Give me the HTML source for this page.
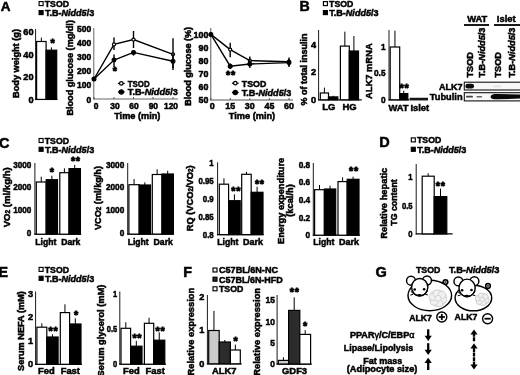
<!DOCTYPE html>
<html lang="en">
<head>
<meta charset="utf-8">
<title>Figure</title>
<style>
html,body{margin:0;padding:0;background:#fff;}
body{width:520px;height:375px;overflow:hidden;}
svg{display:block;}
svg text{font-family:"Liberation Sans",Arial,Helvetica,sans-serif;font-weight:bold;fill:#000;stroke:#000;stroke-width:0.5px;}
</style>
</head>
<body>
<svg width="520" height="375" viewBox="0 0 520 375">
<rect x="0" y="0" width="520" height="375" fill="#fff"/>
<text x="0.8" y="11.2" font-size="13.5" text-anchor="start">A</text>
<rect x="39.1" y="1.6" width="4" height="4" fill="#fff" stroke="#000" stroke-width="1.15"/>
<text x="44.8" y="6.91" font-size="9.2" text-anchor="start" textLength="24.2" lengthAdjust="spacingAndGlyphs">TSOD</text>
<rect x="39.1" y="10.6" width="4" height="4" fill="#000" stroke="#000" stroke-width="1.15"/>
<text x="45" y="15.91" font-size="9.2" text-anchor="start" textLength="49.2" lengthAdjust="spacingAndGlyphs">T.B-<tspan font-style="italic">Nidd5</tspan>/3</text>
<line x1="35.6" y1="29" x2="35.6" y2="100.05" stroke="#1a1a1a" stroke-width="1"/>
<line x1="35.1" y1="99.4" x2="57.4" y2="99.4" stroke="#000" stroke-width="1.3"/>
<text x="33.6" y="102.61" font-size="9.2" text-anchor="end">0</text>
<text x="33.6" y="80.31" font-size="9.2" text-anchor="end">20</text>
<text x="33.6" y="57.81" font-size="9.2" text-anchor="end">40</text>
<text x="33.6" y="35.31" font-size="9.2" text-anchor="end">60</text>
<line x1="41.35" y1="37.6" x2="41.35" y2="41.5" stroke="#000" stroke-width="1"/>
<rect x="36.6" y="41.5" width="9.5" height="57.9" fill="#fff" stroke="#000" stroke-width="1.2"/>
<line x1="51.4" y1="47.4" x2="51.4" y2="50.2" stroke="#000" stroke-width="1"/>
<rect x="46.1" y="50.2" width="10.6" height="49.2" fill="#000" stroke="#000" stroke-width="1.2"/>
<text x="52.5" y="46.9" font-size="10.8" text-anchor="middle" style="stroke-width:0.8px;stroke-linejoin:miter">*</text>
<text x="19" y="63.5" font-size="9.2" text-anchor="middle" transform="rotate(-90 19 63.5)">Body weight (g)</text>
<line x1="93.8" y1="28" x2="93.8" y2="99.55" stroke="#666" stroke-width="1"/>
<line x1="93.3" y1="99" x2="178" y2="99" stroke="#666" stroke-width="1.1"/>
<text x="91.2" y="103.26" font-size="8.5" text-anchor="end">0</text>
<text x="91.2" y="88.46" font-size="8.5" text-anchor="end">100</text>
<text x="91.2" y="74.06" font-size="8.5" text-anchor="end">200</text>
<text x="91.2" y="60.06" font-size="8.5" text-anchor="end">300</text>
<text x="91.2" y="46.06" font-size="8.5" text-anchor="end">400</text>
<text x="91.2" y="32.06" font-size="8.5" text-anchor="end">500</text>
<line x1="94" y1="99" x2="94" y2="97" stroke="#555" stroke-width="1"/>
<text x="96" y="109.32" font-size="8.4" text-anchor="middle">0</text>
<line x1="114" y1="99" x2="114" y2="97" stroke="#555" stroke-width="1"/>
<text x="115" y="109.32" font-size="8.4" text-anchor="middle">30</text>
<line x1="133.5" y1="99" x2="133.5" y2="97" stroke="#555" stroke-width="1"/>
<text x="134" y="109.32" font-size="8.4" text-anchor="middle">60</text>
<line x1="153" y1="99" x2="153" y2="97" stroke="#555" stroke-width="1"/>
<text x="153.3" y="109.32" font-size="8.4" text-anchor="middle">90</text>
<line x1="173" y1="99" x2="173" y2="97" stroke="#555" stroke-width="1"/>
<text x="171" y="109.32" font-size="8.4" text-anchor="middle">120</text>
<text x="137.3" y="118.91" font-size="9.2" text-anchor="middle">Time (min)</text>
<text x="72.6" y="67.8" font-size="9.1" text-anchor="middle" transform="rotate(-90 72.6 67.8)">Blood glucose (mg/dl)</text>
<polyline points="94,79 114,44.4 133.5,39.6 173,54.3" fill="none" stroke="#000" stroke-width="1.4"/>
<line x1="114" y1="37.6" x2="114" y2="50" stroke="#000" stroke-width="1.4"/>
<line x1="133.5" y1="31" x2="133.5" y2="48" stroke="#000" stroke-width="1.4"/>
<line x1="173" y1="38.3" x2="173" y2="68" stroke="#000" stroke-width="1.4"/>
<circle cx="94" cy="79" r="1.55" fill="#fff" stroke="#000" stroke-width="1.2"/>
<circle cx="114" cy="44.4" r="1.55" fill="#fff" stroke="#000" stroke-width="1.2"/>
<circle cx="133.5" cy="39.6" r="1.55" fill="#fff" stroke="#000" stroke-width="1.2"/>
<circle cx="173" cy="54.3" r="1.55" fill="#fff" stroke="#000" stroke-width="1.2"/>
<polyline points="94,79 114,60 133.5,52.4 173,61.3" fill="none" stroke="#000" stroke-width="1.4"/>
<line x1="114" y1="54.4" x2="114" y2="67" stroke="#000" stroke-width="1.4"/>
<line x1="133.5" y1="50" x2="133.5" y2="55.6" stroke="#000" stroke-width="1.4"/>
<line x1="173" y1="53" x2="173" y2="70" stroke="#000" stroke-width="1.4"/>
<circle cx="94" cy="79" r="1.9" fill="#000" stroke="#000" stroke-width="1.2"/>
<circle cx="114" cy="60" r="1.9" fill="#000" stroke="#000" stroke-width="1.2"/>
<circle cx="133.5" cy="52.4" r="1.9" fill="#000" stroke="#000" stroke-width="1.2"/>
<circle cx="173" cy="61.3" r="1.9" fill="#000" stroke="#000" stroke-width="1.2"/>
<text x="114.8" y="75.2" font-size="10.8" text-anchor="middle" style="stroke-width:0.8px;stroke-linejoin:miter">*</text>
<line x1="117.9" y1="83.4" x2="124.7" y2="83.4" stroke="#000" stroke-width="1.3"/>
<circle cx="121.3" cy="83.4" r="1.75" fill="#fff" stroke="#000" stroke-width="1.2"/>
<text x="127.8" y="86.86" font-size="9.6" text-anchor="start" textLength="21.8" lengthAdjust="spacingAndGlyphs">TSOD</text>
<line x1="117.9" y1="92" x2="124.7" y2="92" stroke="#000" stroke-width="1.3"/>
<circle cx="121.3" cy="92" r="2.1" fill="#000" stroke="#000" stroke-width="1.2"/>
<text x="127.8" y="95.46" font-size="9.6" text-anchor="start" textLength="50" lengthAdjust="spacingAndGlyphs">T.B-<tspan font-style="italic">Nidd5</tspan>/3</text>
<line x1="210.8" y1="28" x2="210.8" y2="100.55" stroke="#555" stroke-width="1"/>
<line x1="210.3" y1="100" x2="293" y2="100" stroke="#555" stroke-width="1.1"/>
<text x="208.4" y="102.9" font-size="8.9" text-anchor="end">50</text>
<text x="208.4" y="89.8" font-size="8.9" text-anchor="end">60</text>
<text x="208.4" y="76.8" font-size="8.9" text-anchor="end">70</text>
<text x="208.4" y="63.8" font-size="8.9" text-anchor="end">80</text>
<text x="208.4" y="50.6" font-size="8.9" text-anchor="end">90</text>
<text x="208.4" y="37.6" font-size="8.9" text-anchor="end">100</text>
<line x1="210.9" y1="100" x2="210.9" y2="98" stroke="#555" stroke-width="1"/>
<text x="212.2" y="109.3" font-size="8.9" text-anchor="middle">0</text>
<line x1="230.2" y1="100" x2="230.2" y2="98" stroke="#555" stroke-width="1"/>
<text x="230.2" y="109.3" font-size="8.9" text-anchor="middle">15</text>
<line x1="249.8" y1="100" x2="249.8" y2="98" stroke="#555" stroke-width="1"/>
<text x="249.8" y="109.3" font-size="8.9" text-anchor="middle">30</text>
<line x1="269.4" y1="100" x2="269.4" y2="98" stroke="#555" stroke-width="1"/>
<text x="269.5" y="109.3" font-size="8.9" text-anchor="middle">45</text>
<line x1="289" y1="100" x2="289" y2="98" stroke="#555" stroke-width="1"/>
<text x="289" y="109.3" font-size="8.9" text-anchor="middle">60</text>
<text x="252" y="118.91" font-size="9.2" text-anchor="middle">Time (min)</text>
<text x="191.3" y="66.4" font-size="9.05" text-anchor="middle" transform="rotate(-90 191.3 66.4)">Blood glucose (%)</text>
<polyline points="210.9,34.4 230.2,49.6 249.8,60.6 289,61.7" fill="none" stroke="#000" stroke-width="1.4"/>
<line x1="230.2" y1="42.7" x2="230.2" y2="57.3" stroke="#000" stroke-width="1.4"/>
<line x1="249.8" y1="56.5" x2="249.8" y2="66" stroke="#000" stroke-width="1.4"/>
<line x1="289" y1="57.5" x2="289" y2="66.7" stroke="#000" stroke-width="1.4"/>
<circle cx="210.9" cy="34.4" r="1.55" fill="#fff" stroke="#000" stroke-width="1.2"/>
<circle cx="230.2" cy="49.6" r="1.55" fill="#fff" stroke="#000" stroke-width="1.2"/>
<circle cx="249.8" cy="60.6" r="1.55" fill="#fff" stroke="#000" stroke-width="1.2"/>
<circle cx="289" cy="61.7" r="1.55" fill="#fff" stroke="#000" stroke-width="1.2"/>
<polyline points="210.9,34.4 230.2,66.2 249.8,64 289,62.6" fill="none" stroke="#000" stroke-width="1.4"/>
<line x1="230.2" y1="63.5" x2="230.2" y2="69" stroke="#000" stroke-width="1.4"/>
<line x1="249.8" y1="60" x2="249.8" y2="68" stroke="#000" stroke-width="1.4"/>
<line x1="289" y1="59" x2="289" y2="66.5" stroke="#000" stroke-width="1.4"/>
<circle cx="210.9" cy="34.4" r="1.9" fill="#000" stroke="#000" stroke-width="1.2"/>
<circle cx="230.2" cy="66.2" r="1.9" fill="#000" stroke="#000" stroke-width="1.2"/>
<circle cx="249.8" cy="64" r="1.9" fill="#000" stroke="#000" stroke-width="1.2"/>
<circle cx="289" cy="62.6" r="1.9" fill="#000" stroke="#000" stroke-width="1.2"/>
<text x="231.07" y="79.3" font-size="10.8" text-anchor="middle" style="stroke-width:0.8px;stroke-linejoin:miter" letter-spacing="0.75">**</text>
<line x1="231.9" y1="83.2" x2="238.7" y2="83.2" stroke="#000" stroke-width="1.3"/>
<circle cx="235.3" cy="83.2" r="1.75" fill="#fff" stroke="#000" stroke-width="1.2"/>
<text x="241.8" y="86.55" font-size="9.3" text-anchor="start" textLength="24.5" lengthAdjust="spacingAndGlyphs">TSOD</text>
<line x1="231.9" y1="92.5" x2="238.7" y2="92.5" stroke="#000" stroke-width="1.3"/>
<circle cx="235.3" cy="92.5" r="2.1" fill="#000" stroke="#000" stroke-width="1.2"/>
<text x="241.8" y="95.85" font-size="9.3" text-anchor="start" textLength="49.5" lengthAdjust="spacingAndGlyphs">T.B-<tspan font-style="italic">Nidd5</tspan>/3</text>
<text x="299.6" y="11.1" font-size="14.2" text-anchor="start">B</text>
<rect x="323.4" y="1.6" width="4" height="4" fill="#fff" stroke="#000" stroke-width="1.15"/>
<text x="329.1" y="6.91" font-size="9.2" text-anchor="start" textLength="24.2" lengthAdjust="spacingAndGlyphs">TSOD</text>
<rect x="323.4" y="10.6" width="4" height="4" fill="#000" stroke="#000" stroke-width="1.15"/>
<text x="329.3" y="15.91" font-size="9.2" text-anchor="start" textLength="49.2" lengthAdjust="spacingAndGlyphs">T.B-<tspan font-style="italic">Nidd5</tspan>/3</text>
<line x1="318.6" y1="30" x2="318.6" y2="100.45" stroke="#1a1a1a" stroke-width="1"/>
<line x1="318.1" y1="99.8" x2="361.7" y2="99.8" stroke="#000" stroke-width="1.3"/>
<text x="316" y="102.71" font-size="9.2" text-anchor="end">0</text>
<text x="316" y="75.31" font-size="9.2" text-anchor="end">2</text>
<text x="316" y="48.01" font-size="9.2" text-anchor="end">4</text>
<line x1="324.4" y1="87.6" x2="324.4" y2="93" stroke="#000" stroke-width="1"/>
<rect x="320.3" y="93" width="8.2" height="6.8" fill="#fff" stroke="#000" stroke-width="1.2"/>
<line x1="333.15" y1="95.8" x2="333.15" y2="96.9" stroke="#000" stroke-width="1"/>
<rect x="328.5" y="96.9" width="9.3" height="2.9" fill="#000" stroke="#000" stroke-width="1.2"/>
<line x1="344.85" y1="31.7" x2="344.85" y2="46.1" stroke="#000" stroke-width="1"/>
<rect x="340.4" y="46.1" width="8.9" height="53.7" fill="#fff" stroke="#000" stroke-width="1.2"/>
<line x1="353.9" y1="36" x2="353.9" y2="51" stroke="#000" stroke-width="1"/>
<rect x="349.3" y="51" width="9.2" height="48.8" fill="#000" stroke="#000" stroke-width="1.2"/>
<text x="328.8" y="110.42" font-size="9.5" text-anchor="middle">LG</text>
<text x="349.6" y="110.42" font-size="9.5" text-anchor="middle">HG</text>
<text x="307" y="69.6" font-size="9" text-anchor="middle" transform="rotate(-90 307 69.6)">% of total insulin</text>
<line x1="389" y1="30" x2="389" y2="100.45" stroke="#1a1a1a" stroke-width="1"/>
<line x1="388.5" y1="99.8" x2="409" y2="99.8" stroke="#000" stroke-width="1.3"/>
<text x="385.5" y="102.78" font-size="9.4" text-anchor="end" textLength="4.6" lengthAdjust="spacingAndGlyphs">0</text>
<text x="385.5" y="76.28" font-size="9.4" text-anchor="end" textLength="11.5" lengthAdjust="spacingAndGlyphs">0.5</text>
<text x="385.5" y="50.28" font-size="9.4" text-anchor="end" textLength="4.6" lengthAdjust="spacingAndGlyphs">1</text>
<line x1="394.95" y1="30.7" x2="394.95" y2="47" stroke="#000" stroke-width="1"/>
<rect x="390.2" y="47" width="9.5" height="52.8" fill="#fff" stroke="#000" stroke-width="1.2"/>
<line x1="403.75" y1="90.7" x2="403.75" y2="93.6" stroke="#000" stroke-width="1"/>
<rect x="399.7" y="93.6" width="8.1" height="6.2" fill="#000" stroke="#000" stroke-width="1.2"/>
<text x="404.48" y="92" font-size="10.8" text-anchor="middle" style="stroke-width:0.8px;stroke-linejoin:miter" letter-spacing="0.75">**</text>
<line x1="409.5" y1="99.1" x2="428" y2="99.1" stroke="#161616" stroke-width="2.7"/>
<text x="398.5" y="110.68" font-size="9.4" text-anchor="middle">WAT</text>
<text x="419.8" y="110.98" font-size="9.4" text-anchor="middle">Islet</text>
<text x="371.6" y="71.2" font-size="9.8" text-anchor="middle" transform="rotate(-90 371.6 71.2)" textLength="55.7" lengthAdjust="spacingAndGlyphs">ALK7 mRNA</text>
<text x="477.2" y="21.58" font-size="9.4" text-anchor="middle">WAT</text>
<text x="506.2" y="21.58" font-size="9.4" text-anchor="middle">Islet</text>
<line x1="464" y1="25" x2="489" y2="25" stroke="#000" stroke-width="1.8"/>
<line x1="494" y1="25" x2="520" y2="25" stroke="#000" stroke-width="1.8"/>
<text x="472.7" y="77.6" font-size="9.2" text-anchor="start" transform="rotate(-90 472.7 77.6)">TSOD</text>
<text x="484.8" y="77.6" font-size="9.2" text-anchor="start" transform="rotate(-90 484.8 77.6)">T.B-<tspan font-style="italic">Nidd5</tspan>/3</text>
<text x="501.4" y="77.6" font-size="9.2" text-anchor="start" transform="rotate(-90 501.4 77.6)">TSOD</text>
<text x="515.2" y="77.6" font-size="9.2" text-anchor="start" transform="rotate(-90 515.2 77.6)">T.B-<tspan font-style="italic">Nidd5</tspan>/3</text>
<text x="462.6" y="89.86" font-size="9.9" text-anchor="end" textLength="23.6" lengthAdjust="spacingAndGlyphs">ALK7</text>
<text x="462.6" y="100.36" font-size="9.9" text-anchor="end" textLength="32.8" lengthAdjust="spacingAndGlyphs">Tubulin</text>
<rect x="464.3" y="82.2" width="57" height="7.8" fill="#f8f8f8" stroke="#111" stroke-width="1.1"/>
<rect x="465.4" y="83.7" width="8.6" height="4.9" rx="2.3" fill="#0c0c0c"/>
<rect x="493" y="85.2" width="8" height="2.4" rx="1.2" fill="#e6e6e6"/>
<rect x="464.3" y="92.7" width="57" height="8.2" fill="#f8f8f8" stroke="#111" stroke-width="1.1"/>
<rect x="466" y="95.8" width="7" height="1.8" rx="0.9" fill="#444"/>
<rect x="476.4" y="95.9" width="5.8" height="1.6" rx="0.8" fill="#666"/>
<path d="M490.6 96.6 C491 94.4 494 93.9 498 94 L520 94.6 L520 98.6 L498 99.3 C493.5 99.5 490.4 99 490.6 96.6 Z" fill="#080808"/>
<text x="-0.9" y="148.4" font-size="14.5" text-anchor="start">C</text>
<rect x="39.1" y="138.5" width="4" height="4" fill="#fff" stroke="#000" stroke-width="1.15"/>
<text x="44.8" y="143.81" font-size="9.2" text-anchor="start" textLength="24.2" lengthAdjust="spacingAndGlyphs">TSOD</text>
<rect x="39.1" y="147.3" width="4" height="4" fill="#000" stroke="#000" stroke-width="1.15"/>
<text x="45" y="152.61" font-size="9.2" text-anchor="start" textLength="49.2" lengthAdjust="spacingAndGlyphs">T.B-<tspan font-style="italic">Nidd5</tspan>/3</text>
<line x1="34.9" y1="163" x2="34.9" y2="234.85" stroke="#1a1a1a" stroke-width="1"/>
<line x1="34.4" y1="234.2" x2="81.2" y2="234.2" stroke="#000" stroke-width="1.3"/>
<text x="31.3" y="235.86" font-size="9.6" text-anchor="end" textLength="4.54" lengthAdjust="spacingAndGlyphs">0</text>
<text x="31.3" y="213.26" font-size="9.6" text-anchor="end" textLength="18.15" lengthAdjust="spacingAndGlyphs">1000</text>
<text x="31.3" y="190.26" font-size="9.6" text-anchor="end" textLength="18.15" lengthAdjust="spacingAndGlyphs">2000</text>
<text x="31.3" y="167.86" font-size="9.6" text-anchor="end" textLength="18.15" lengthAdjust="spacingAndGlyphs">3000</text>
<line x1="41.25" y1="176.7" x2="41.25" y2="182" stroke="#000" stroke-width="1"/>
<rect x="36.3" y="182" width="9.9" height="52.2" fill="#fff" stroke="#000" stroke-width="1.2"/>
<line x1="51.85" y1="175.7" x2="51.85" y2="179.7" stroke="#000" stroke-width="1"/>
<rect x="46.2" y="179.7" width="11.3" height="54.5" fill="#000" stroke="#000" stroke-width="1.2"/>
<line x1="64.4" y1="168.3" x2="64.4" y2="172.7" stroke="#000" stroke-width="1"/>
<rect x="59.8" y="172.7" width="9.2" height="61.5" fill="#fff" stroke="#000" stroke-width="1.2"/>
<line x1="74.7" y1="165" x2="74.7" y2="168.6" stroke="#000" stroke-width="1"/>
<rect x="69" y="168.6" width="11.4" height="65.6" fill="#000" stroke="#000" stroke-width="1.2"/>
<text x="45.8" y="244.61" font-size="9.2" text-anchor="middle" textLength="21" lengthAdjust="spacingAndGlyphs">Light</text>
<text x="70.8" y="244.61" font-size="9.2" text-anchor="middle" textLength="19.2" lengthAdjust="spacingAndGlyphs">Dark</text>
<text x="51.8" y="175.9" font-size="10.8" text-anchor="middle" style="stroke-width:0.8px;stroke-linejoin:miter">*</text>
<text x="75.88" y="165.4" font-size="10.8" text-anchor="middle" style="stroke-width:0.8px;stroke-linejoin:miter" letter-spacing="0.75">**</text>
<text x="9.6" y="197.3" font-size="9.6" text-anchor="middle" transform="rotate(-90 9.6 197.3)" textLength="60" lengthAdjust="spacingAndGlyphs">VO<tspan font-size="6.6">2</tspan> (ml/kg/h)</text>
<line x1="127.7" y1="163" x2="127.7" y2="234.75" stroke="#1a1a1a" stroke-width="1"/>
<line x1="127.2" y1="234.1" x2="174" y2="234.1" stroke="#000" stroke-width="1.3"/>
<text x="124.3" y="235.86" font-size="9.6" text-anchor="end" textLength="4.59" lengthAdjust="spacingAndGlyphs">0</text>
<text x="124.3" y="213.26" font-size="9.6" text-anchor="end" textLength="18.36" lengthAdjust="spacingAndGlyphs">1000</text>
<text x="124.3" y="190.26" font-size="9.6" text-anchor="end" textLength="18.36" lengthAdjust="spacingAndGlyphs">2000</text>
<text x="124.3" y="168.26" font-size="9.6" text-anchor="end" textLength="18.36" lengthAdjust="spacingAndGlyphs">3000</text>
<line x1="134.05" y1="179" x2="134.05" y2="184.7" stroke="#000" stroke-width="1"/>
<rect x="128.9" y="184.7" width="10.3" height="49.4" fill="#fff" stroke="#000" stroke-width="1.2"/>
<line x1="144.85" y1="182.3" x2="144.85" y2="185" stroke="#000" stroke-width="1"/>
<rect x="139.2" y="185" width="11.3" height="49.1" fill="#000" stroke="#000" stroke-width="1.2"/>
<line x1="157.15" y1="169.3" x2="157.15" y2="174.5" stroke="#000" stroke-width="1"/>
<rect x="152.3" y="174.5" width="9.7" height="59.6" fill="#fff" stroke="#000" stroke-width="1.2"/>
<line x1="167.7" y1="170.7" x2="167.7" y2="174" stroke="#000" stroke-width="1"/>
<rect x="162" y="174" width="11.4" height="60.1" fill="#000" stroke="#000" stroke-width="1.2"/>
<text x="138.2" y="244.61" font-size="9.2" text-anchor="middle" textLength="21" lengthAdjust="spacingAndGlyphs">Light</text>
<text x="163.2" y="244.61" font-size="9.2" text-anchor="middle" textLength="19.2" lengthAdjust="spacingAndGlyphs">Dark</text>
<text x="100.8" y="198" font-size="9.6" text-anchor="middle" transform="rotate(-90 100.8 198)" textLength="64" lengthAdjust="spacingAndGlyphs">VCO<tspan font-size="6.6">2</tspan> (ml/kg/h)</text>
<line x1="217.6" y1="162.3" x2="217.6" y2="235.25" stroke="#1a1a1a" stroke-width="1"/>
<line x1="217.1" y1="234.6" x2="263.6" y2="234.6" stroke="#000" stroke-width="1.3"/>
<text x="213.7" y="237.86" font-size="9.6" text-anchor="end" textLength="10.94" lengthAdjust="spacingAndGlyphs">0.8</text>
<text x="213.7" y="220.06" font-size="9.6" text-anchor="end" textLength="15.32" lengthAdjust="spacingAndGlyphs">0.85</text>
<text x="213.7" y="201.86" font-size="9.6" text-anchor="end" textLength="10.94" lengthAdjust="spacingAndGlyphs">0.9</text>
<text x="213.7" y="183.66" font-size="9.6" text-anchor="end" textLength="15.32" lengthAdjust="spacingAndGlyphs">0.95</text>
<text x="213.7" y="166.46" font-size="9.6" text-anchor="end" textLength="4.38" lengthAdjust="spacingAndGlyphs">1</text>
<line x1="223.95" y1="178.3" x2="223.95" y2="184.2" stroke="#000" stroke-width="1"/>
<rect x="219.3" y="184.2" width="9.3" height="50.4" fill="#fff" stroke="#000" stroke-width="1.2"/>
<line x1="234.4" y1="194.3" x2="234.4" y2="200.7" stroke="#000" stroke-width="1"/>
<rect x="228.6" y="200.7" width="11.6" height="33.9" fill="#000" stroke="#000" stroke-width="1.2"/>
<line x1="246.45" y1="171.7" x2="246.45" y2="174.3" stroke="#000" stroke-width="1"/>
<rect x="241.7" y="174.3" width="9.5" height="60.3" fill="#fff" stroke="#000" stroke-width="1.2"/>
<line x1="257.1" y1="186.7" x2="257.1" y2="192.3" stroke="#000" stroke-width="1"/>
<rect x="251.2" y="192.3" width="11.8" height="42.3" fill="#000" stroke="#000" stroke-width="1.2"/>
<text x="227.8" y="244.61" font-size="9.2" text-anchor="middle" textLength="21.3" lengthAdjust="spacingAndGlyphs">Light</text>
<text x="253" y="244.61" font-size="9.2" text-anchor="middle" textLength="20" lengthAdjust="spacingAndGlyphs">Dark</text>
<text x="236.18" y="194.9" font-size="10.8" text-anchor="middle" style="stroke-width:0.8px;stroke-linejoin:miter" letter-spacing="0.75">**</text>
<text x="259.88" y="188.1" font-size="10.8" text-anchor="middle" style="stroke-width:0.8px;stroke-linejoin:miter" letter-spacing="0.75">**</text>
<text x="192.6" y="198.3" font-size="9.6" text-anchor="middle" transform="rotate(-90 192.6 198.3)" textLength="66" lengthAdjust="spacingAndGlyphs">RQ (VCO<tspan font-size="6.6">2</tspan>/VO<tspan font-size="6.6">2</tspan>)</text>
<line x1="313.3" y1="163" x2="313.3" y2="235.85" stroke="#1a1a1a" stroke-width="1"/>
<line x1="312.8" y1="235.2" x2="359.8" y2="235.2" stroke="#000" stroke-width="1.3"/>
<text x="310.2" y="237.86" font-size="9.6" text-anchor="end" textLength="4.59" lengthAdjust="spacingAndGlyphs">0</text>
<text x="310.2" y="220.66" font-size="9.6" text-anchor="end" textLength="11.48" lengthAdjust="spacingAndGlyphs">0.2</text>
<text x="310.2" y="203.16" font-size="9.6" text-anchor="end" textLength="11.48" lengthAdjust="spacingAndGlyphs">0.4</text>
<text x="310.2" y="185.46" font-size="9.6" text-anchor="end" textLength="11.48" lengthAdjust="spacingAndGlyphs">0.6</text>
<text x="310.2" y="167.86" font-size="9.6" text-anchor="end" textLength="11.48" lengthAdjust="spacingAndGlyphs">0.8</text>
<line x1="319.5" y1="185" x2="319.5" y2="189.7" stroke="#000" stroke-width="1"/>
<rect x="314.6" y="189.7" width="9.8" height="45.5" fill="#fff" stroke="#000" stroke-width="1.2"/>
<line x1="330.05" y1="185.7" x2="330.05" y2="189" stroke="#000" stroke-width="1"/>
<rect x="324.4" y="189" width="11.3" height="46.2" fill="#000" stroke="#000" stroke-width="1.2"/>
<line x1="342.6" y1="177.3" x2="342.6" y2="181.6" stroke="#000" stroke-width="1"/>
<rect x="338" y="181.6" width="9.2" height="53.6" fill="#fff" stroke="#000" stroke-width="1.2"/>
<line x1="353.1" y1="176.7" x2="353.1" y2="179.3" stroke="#000" stroke-width="1"/>
<rect x="347.2" y="179.3" width="11.8" height="55.9" fill="#000" stroke="#000" stroke-width="1.2"/>
<text x="323.8" y="245.01" font-size="9.2" text-anchor="middle" textLength="21" lengthAdjust="spacingAndGlyphs">Light</text>
<text x="349" y="245.01" font-size="9.2" text-anchor="middle" textLength="20" lengthAdjust="spacingAndGlyphs">Dark</text>
<text x="354.07" y="175" font-size="10.8" text-anchor="middle" style="stroke-width:0.8px;stroke-linejoin:miter" letter-spacing="0.75">**</text>
<text x="283.6" y="200.9" font-size="9.2" text-anchor="middle" transform="rotate(-90 283.6 200.9)" textLength="86" lengthAdjust="spacingAndGlyphs">Energy expenditure</text>
<text x="293.2" y="200.5" font-size="9.2" text-anchor="middle" transform="rotate(-90 293.2 200.5)" textLength="32.5" lengthAdjust="spacingAndGlyphs">(kcal/h)</text>
<text x="379.2" y="146.7" font-size="14.5" text-anchor="start">D</text>
<rect x="411.3" y="137.9" width="4" height="4" fill="#fff" stroke="#000" stroke-width="1.15"/>
<text x="417" y="143.14" font-size="9" text-anchor="start" textLength="24.2" lengthAdjust="spacingAndGlyphs">TSOD</text>
<rect x="411.3" y="147.3" width="4" height="4" fill="#000" stroke="#000" stroke-width="1.15"/>
<text x="417.2" y="152.54" font-size="9" text-anchor="start" textLength="49.2" lengthAdjust="spacingAndGlyphs">T.B-<tspan font-style="italic">Nidd5</tspan>/3</text>
<line x1="416.2" y1="164" x2="416.2" y2="234.55" stroke="#1a1a1a" stroke-width="1"/>
<line x1="415.7" y1="233.9" x2="452.6" y2="233.9" stroke="#000" stroke-width="1.3"/>
<text x="412.6" y="236.86" font-size="9.6" text-anchor="end" textLength="4.27" lengthAdjust="spacingAndGlyphs">0</text>
<text x="412.6" y="209.26" font-size="9.6" text-anchor="end" textLength="10.68" lengthAdjust="spacingAndGlyphs">0.5</text>
<text x="412.6" y="179.76" font-size="9.6" text-anchor="end" textLength="4.27" lengthAdjust="spacingAndGlyphs">1</text>
<line x1="428.2" y1="173.3" x2="428.2" y2="176.2" stroke="#000" stroke-width="1"/>
<rect x="422.2" y="176.2" width="12" height="57.7" fill="#fff" stroke="#000" stroke-width="1.2"/>
<line x1="440.5" y1="188.6" x2="440.5" y2="196.6" stroke="#000" stroke-width="1"/>
<rect x="434.2" y="196.6" width="12.6" height="37.3" fill="#000" stroke="#000" stroke-width="1.2"/>
<text x="440.77" y="189.8" font-size="10.8" text-anchor="middle" style="stroke-width:0.8px;stroke-linejoin:miter" letter-spacing="0.75">**</text>
<text x="386.6" y="203.2" font-size="9.3" text-anchor="middle" transform="rotate(-90 386.6 203.2)" textLength="71" lengthAdjust="spacingAndGlyphs">Relative hepatic</text>
<text x="396.8" y="202.5" font-size="9" text-anchor="middle" transform="rotate(-90 396.8 202.5)" textLength="46.5" lengthAdjust="spacingAndGlyphs">TG content</text>
<text x="-1.6" y="276.6" font-size="14.3" text-anchor="start">E</text>
<rect x="39.1" y="267.4" width="4" height="4" fill="#fff" stroke="#000" stroke-width="1.15"/>
<text x="44.8" y="272.71" font-size="9.2" text-anchor="start" textLength="24.2" lengthAdjust="spacingAndGlyphs">TSOD</text>
<rect x="39.1" y="276.3" width="4" height="4" fill="#000" stroke="#000" stroke-width="1.15"/>
<text x="45" y="281.61" font-size="9.2" text-anchor="start" textLength="49.2" lengthAdjust="spacingAndGlyphs">T.B-<tspan font-style="italic">Nidd5</tspan>/3</text>
<line x1="35.6" y1="291.5" x2="35.6" y2="364.95" stroke="#1a1a1a" stroke-width="1"/>
<line x1="35.1" y1="364.3" x2="82" y2="364.3" stroke="#000" stroke-width="1.3"/>
<text x="33" y="367.31" font-size="9.2" text-anchor="end">0</text>
<text x="33" y="344.01" font-size="9.2" text-anchor="end">1</text>
<text x="33" y="320.31" font-size="9.2" text-anchor="end">2</text>
<text x="33" y="296.81" font-size="9.2" text-anchor="end">3</text>
<line x1="41.85" y1="323.3" x2="41.85" y2="327.2" stroke="#000" stroke-width="1"/>
<rect x="36.9" y="327.2" width="9.9" height="37.1" fill="#fff" stroke="#000" stroke-width="1.2"/>
<line x1="52.45" y1="334.3" x2="52.45" y2="337" stroke="#000" stroke-width="1"/>
<rect x="46.8" y="337" width="11.3" height="27.3" fill="#000" stroke="#000" stroke-width="1.2"/>
<line x1="64.95" y1="304.3" x2="64.95" y2="312.6" stroke="#000" stroke-width="1"/>
<rect x="60.3" y="312.6" width="9.3" height="51.7" fill="#fff" stroke="#000" stroke-width="1.2"/>
<line x1="75.3" y1="318.3" x2="75.3" y2="324" stroke="#000" stroke-width="1"/>
<rect x="69.6" y="324" width="11.4" height="40.3" fill="#000" stroke="#000" stroke-width="1.2"/>
<text x="46.4" y="374.28" font-size="9.4" text-anchor="middle">Fed</text>
<text x="70.3" y="374.28" font-size="9.4" text-anchor="middle">Fast</text>
<text x="53.48" y="334.7" font-size="10.8" text-anchor="middle" style="stroke-width:0.8px;stroke-linejoin:miter" letter-spacing="0.75">**</text>
<text x="76" y="318.9" font-size="10.8" text-anchor="middle" style="stroke-width:0.8px;stroke-linejoin:miter">*</text>
<text x="23.7" y="331" font-size="9.2" text-anchor="middle" transform="rotate(-90 23.7 331)">Serum NEFA (mM)</text>
<line x1="119.8" y1="291.5" x2="119.8" y2="364.85" stroke="#1a1a1a" stroke-width="1"/>
<line x1="119.3" y1="364.2" x2="166" y2="364.2" stroke="#000" stroke-width="1.3"/>
<text x="117.2" y="366.88" font-size="9.4" text-anchor="end" textLength="4.18" lengthAdjust="spacingAndGlyphs">0</text>
<text x="117.2" y="331.88" font-size="9.4" text-anchor="end" textLength="10.45" lengthAdjust="spacingAndGlyphs">0.5</text>
<text x="117.2" y="296.88" font-size="9.4" text-anchor="end" textLength="4.18" lengthAdjust="spacingAndGlyphs">1</text>
<line x1="125.8" y1="322.3" x2="125.8" y2="328.3" stroke="#000" stroke-width="1"/>
<rect x="121" y="328.3" width="9.6" height="35.9" fill="#fff" stroke="#000" stroke-width="1.2"/>
<line x1="136.3" y1="340.8" x2="136.3" y2="346.2" stroke="#000" stroke-width="1"/>
<rect x="130.6" y="346.2" width="11.4" height="18" fill="#000" stroke="#000" stroke-width="1.2"/>
<line x1="149.05" y1="317.7" x2="149.05" y2="323.3" stroke="#000" stroke-width="1"/>
<rect x="144.4" y="323.3" width="9.3" height="40.9" fill="#fff" stroke="#000" stroke-width="1.2"/>
<line x1="159.25" y1="332.3" x2="159.25" y2="340.2" stroke="#000" stroke-width="1"/>
<rect x="153.7" y="340.2" width="11.1" height="24" fill="#000" stroke="#000" stroke-width="1.2"/>
<text x="131.3" y="374.28" font-size="9.4" text-anchor="middle">Fed</text>
<text x="155.2" y="374.28" font-size="9.4" text-anchor="middle">Fast</text>
<text x="137.38" y="342.1" font-size="10.8" text-anchor="middle" style="stroke-width:0.8px;stroke-linejoin:miter" letter-spacing="0.75">**</text>
<text x="160.47" y="334.9" font-size="10.8" text-anchor="middle" style="stroke-width:0.8px;stroke-linejoin:miter" letter-spacing="0.75">**</text>
<text x="103.6" y="330.5" font-size="9.3" text-anchor="middle" transform="rotate(-90 103.6 330.5)">Serum glycerol (mM)</text>
<text x="183.2" y="276.6" font-size="14.3" text-anchor="start">F</text>
<rect x="213" y="268" width="4" height="4" fill="#f0f0f0" stroke="#000" stroke-width="1.15"/>
<text x="219" y="273.31" font-size="9.2" text-anchor="start" textLength="59" lengthAdjust="spacingAndGlyphs">C57BL/6N-NC</text>
<rect x="213" y="277.2" width="4" height="4" fill="#2a2a2a" stroke="#000" stroke-width="1.15"/>
<text x="219" y="282.51" font-size="9.2" text-anchor="start" textLength="63.8" lengthAdjust="spacingAndGlyphs">C57BL/6N-HFD</text>
<rect x="213" y="286.8" width="4" height="4" fill="#fff" stroke="#000" stroke-width="1.15"/>
<text x="219" y="292.11" font-size="9.2" text-anchor="start" textLength="24.3" lengthAdjust="spacingAndGlyphs">TSOD</text>
<line x1="207.4" y1="295" x2="207.4" y2="364.45" stroke="#1a1a1a" stroke-width="1"/>
<line x1="206.9" y1="363.8" x2="241.7" y2="363.8" stroke="#000" stroke-width="1.3"/>
<text x="204.3" y="366.81" font-size="9.2" text-anchor="end">0</text>
<text x="204.3" y="333.41" font-size="9.2" text-anchor="end">1</text>
<text x="204.3" y="299.91" font-size="9.2" text-anchor="end">2</text>
<line x1="213.95" y1="310.9" x2="213.95" y2="330.5" stroke="#000" stroke-width="1"/>
<rect x="208.7" y="330.5" width="10.5" height="33.3" fill="#cacaca" stroke="#000" stroke-width="1.2"/>
<line x1="224.8" y1="340" x2="224.8" y2="342" stroke="#000" stroke-width="1"/>
<rect x="219.2" y="342" width="11.2" height="21.8" fill="#2c2c2c" stroke="#000" stroke-width="1.2"/>
<line x1="235.35" y1="344.6" x2="235.35" y2="350" stroke="#000" stroke-width="1"/>
<rect x="230.4" y="350" width="9.9" height="13.8" fill="#fff" stroke="#000" stroke-width="1.2"/>
<text x="235.5" y="345.4" font-size="10.8" text-anchor="middle" style="stroke-width:0.8px;stroke-linejoin:miter">*</text>
<text x="224.2" y="373.58" font-size="9.4" text-anchor="middle">ALK7</text>
<text x="193.8" y="331.6" font-size="9.35" text-anchor="middle" transform="rotate(-90 193.8 331.6)">Relative expression</text>
<line x1="277.1" y1="295" x2="277.1" y2="364.65" stroke="#1a1a1a" stroke-width="1"/>
<line x1="276.6" y1="364" x2="311.7" y2="364" stroke="#000" stroke-width="1.3"/>
<text x="274.9" y="367.08" font-size="9.4" text-anchor="end" textLength="4.7" lengthAdjust="spacingAndGlyphs">0</text>
<text x="274.9" y="345.98" font-size="9.4" text-anchor="end" textLength="4.7" lengthAdjust="spacingAndGlyphs">5</text>
<text x="274.9" y="324.88" font-size="9.4" text-anchor="end" textLength="9.41" lengthAdjust="spacingAndGlyphs">10</text>
<text x="274.9" y="303.38" font-size="9.4" text-anchor="end" textLength="9.41" lengthAdjust="spacingAndGlyphs">15</text>
<line x1="283.45" y1="357.3" x2="283.45" y2="360.4" stroke="#000" stroke-width="1"/>
<rect x="278.3" y="360.4" width="10.3" height="3.6" fill="#cacaca" stroke="#000" stroke-width="1.2"/>
<line x1="294.2" y1="297.4" x2="294.2" y2="310.4" stroke="#000" stroke-width="1"/>
<rect x="288.6" y="310.4" width="11.2" height="53.6" fill="#2c2c2c" stroke="#000" stroke-width="1.2"/>
<line x1="305.2" y1="330.2" x2="305.2" y2="334.4" stroke="#000" stroke-width="1"/>
<rect x="299.8" y="334.4" width="10.8" height="29.6" fill="#fff" stroke="#000" stroke-width="1.2"/>
<text x="294.68" y="296.2" font-size="10.8" text-anchor="middle" style="stroke-width:0.8px;stroke-linejoin:miter" letter-spacing="0.75">**</text>
<text x="305.1" y="329.9" font-size="10.8" text-anchor="middle" style="stroke-width:0.8px;stroke-linejoin:miter">*</text>
<text x="294.6" y="373.58" font-size="9.4" text-anchor="middle">GDF3</text>
<text x="260.2" y="331.8" font-size="9.35" text-anchor="middle" transform="rotate(-90 260.2 331.8)">Relative expression</text>
<text x="375.5" y="276.8" font-size="14.5" text-anchor="start">G</text>
<text x="428.2" y="273.13" font-size="9.8" text-anchor="middle" textLength="24.4" lengthAdjust="spacingAndGlyphs">TSOD</text>
<text x="474.2" y="273.13" font-size="9.8" text-anchor="middle" textLength="50.5" lengthAdjust="spacingAndGlyphs">T.B-<tspan font-style="italic">Nidd5</tspan>/3</text>
<g stroke="#000" stroke-width="1.45" fill="#fff">
<path d="M444.9 286.7 q-0.6 -1.6 -1.4 -2.4" fill="none" stroke-width="1.3"/>
<circle cx="445.5" cy="282.1" r="2.35" stroke-width="1.5" fill="#bbb"/>
<circle cx="445.5" cy="282.1" r="0.9" fill="#333" stroke="none"/>
<ellipse cx="429.8" cy="295.5" rx="21.8" ry="15.2"/>
<g stroke="#cdcdcd" stroke-width="0.8" fill="#f1f1f1">
<ellipse cx="438" cy="298.3" rx="8.64" ry="8.19" fill="#e4e4e4" stroke="#dedede" stroke-width="1.2"/>
<ellipse cx="443.04" cy="299.78" rx="3.84" ry="3.64"/>
<ellipse cx="439.17" cy="303.18" rx="3.84" ry="3.64"/>
<ellipse cx="434.13" cy="301.7" rx="3.84" ry="3.64"/>
<ellipse cx="432.96" cy="296.82" rx="3.84" ry="3.64"/>
<ellipse cx="436.83" cy="293.42" rx="3.84" ry="3.64"/>
<ellipse cx="441.87" cy="294.9" rx="3.84" ry="3.64"/>
<ellipse cx="438" cy="298.3" rx="3.17" ry="3" fill="#f0f0f0"/>
</g>
<circle cx="411" cy="280.7" r="4.45"/>
<circle cx="427" cy="280.5" r="4.45"/>
<ellipse cx="419.7" cy="287.2" rx="8.1" ry="8.8"/>
<circle cx="414.7" cy="289.5" r="1.3" fill="#000" stroke="none"/>
<circle cx="424.1" cy="289.3" r="1.3" fill="#000" stroke="none"/>
<ellipse cx="419.4" cy="295.3" rx="2" ry="1.3" fill="#000" stroke="none"/>
<path d="M417.9 295.2 q-2.4 0.2 -4.4 -1.6 M420.9 295.2 q2.4 0.2 4.4 -1.6" stroke-width="1" fill="none"/>
<path d="M413.1 293.4 l-2.4 -2.2 M413.1 294.4 l-2.8 0.7 M425.3 293.4 l2.2 -2.4 M425.3 294.4 l2.6 0.5" stroke-width="1" fill="none"/>
</g>
<g stroke="#000" stroke-width="1.45" fill="#fff">
<path d="M487.4 290.5 q-0.6 -1.6 -1.4 -2.4" fill="none" stroke-width="1.3"/>
<circle cx="488" cy="285.9" r="2.35" stroke-width="1.5" fill="#bbb"/>
<circle cx="488" cy="285.9" r="0.9" fill="#333" stroke="none"/>
<ellipse cx="473.4" cy="298" rx="18.3" ry="12.8"/>
<g stroke="#cdcdcd" stroke-width="0.8" fill="#f1f1f1">
<ellipse cx="482.2" cy="299.3" rx="6.57" ry="5.94" fill="#e4e4e4" stroke="#dedede" stroke-width="1.2"/>
<ellipse cx="486.04" cy="300.37" rx="2.92" ry="2.64"/>
<ellipse cx="483.09" cy="302.84" rx="2.92" ry="2.64"/>
<ellipse cx="479.25" cy="301.77" rx="2.92" ry="2.64"/>
<ellipse cx="478.36" cy="298.23" rx="2.92" ry="2.64"/>
<ellipse cx="481.31" cy="295.76" rx="2.92" ry="2.64"/>
<ellipse cx="485.15" cy="296.83" rx="2.92" ry="2.64"/>
<ellipse cx="482.2" cy="299.3" rx="2.41" ry="2.18" fill="#f0f0f0"/>
</g>
<circle cx="458.4" cy="281.4" r="4.45"/>
<circle cx="474.4" cy="281.2" r="4.45"/>
<ellipse cx="467.1" cy="287.9" rx="8.1" ry="8.8"/>
<circle cx="462.1" cy="290.2" r="1.3" fill="#000" stroke="none"/>
<circle cx="471.5" cy="290" r="1.3" fill="#000" stroke="none"/>
<ellipse cx="466.8" cy="296" rx="2" ry="1.3" fill="#000" stroke="none"/>
<path d="M465.3 295.9 q-2.4 0.2 -4.4 -1.6 M468.3 295.9 q2.4 0.2 4.4 -1.6" stroke-width="1" fill="none"/>
<path d="M460.5 294.1 l-2.4 -2.2 M460.5 295.1 l-2.8 0.7 M472.7 294.1 l2.2 -2.4 M472.7 295.1 l2.6 0.5" stroke-width="1" fill="none"/>
</g>
<text x="409.2" y="321.06" font-size="9.6" text-anchor="start" textLength="22.6" lengthAdjust="spacingAndGlyphs">ALK7</text>
<text x="454.6" y="320.36" font-size="9.6" text-anchor="start" textLength="22.8" lengthAdjust="spacingAndGlyphs">ALK7</text>
<circle cx="441.8" cy="317" r="5" fill="#fff" stroke="#000" stroke-width="1.4"/>
<line x1="438.7" y1="317" x2="444.9" y2="317" stroke="#000" stroke-width="1.8"/>
<line x1="441.8" y1="313.9" x2="441.8" y2="320.1" stroke="#000" stroke-width="1.8"/>
<circle cx="487.6" cy="318.7" r="5" fill="#fff" stroke="#000" stroke-width="1.4"/>
<line x1="484.5" y1="318.7" x2="490.7" y2="318.7" stroke="#000" stroke-width="1.8"/>
<text x="414.5" y="337.51" font-size="9.2" text-anchor="end" textLength="64.6" lengthAdjust="spacingAndGlyphs">PPAR<tspan font-weight="normal">γ</tspan>/C/EBP<tspan font-weight="normal">α</tspan></text>
<text x="413.2" y="351.21" font-size="9.2" text-anchor="end" textLength="69.4" lengthAdjust="spacingAndGlyphs">Lipase/Lipolysis</text>
<text x="382.8" y="363.71" font-size="9.2" text-anchor="middle" textLength="39.2" lengthAdjust="spacingAndGlyphs">Fat mass</text>
<text x="417.4" y="372.01" font-size="9.2" text-anchor="end" textLength="70.6" lengthAdjust="spacingAndGlyphs">(Adipocyte size)</text>
<line x1="428.2" y1="329.3" x2="428.2" y2="336.3" stroke="#000" stroke-width="2.3"/>
<path d="M428.2 341 L424.6 335.8 L431.8 335.8 Z" fill="#000"/>
<line x1="428.2" y1="343.2" x2="428.2" y2="350.3" stroke="#000" stroke-width="2.3"/>
<path d="M428.2 355 L424.6 349.8 L431.8 349.8 Z" fill="#000"/>
<line x1="428.2" y1="370" x2="428.2" y2="362.5" stroke="#000" stroke-width="2.3"/>
<path d="M428.2 357.8 L424.6 363 L431.8 363 Z" fill="#000"/>
<line x1="474" y1="341.2" x2="474" y2="334.1" stroke="#000" stroke-width="2.3" stroke-dasharray="3.9 0.45"/>
<path d="M474 329.4 L470.4 334.6 L477.6 334.6 Z" fill="#000"/>
<line x1="474" y1="356.4" x2="474" y2="347.9" stroke="#000" stroke-width="2.3" stroke-dasharray="3.9 0.45"/>
<path d="M474 343.2 L470.4 348.4 L477.6 348.4 Z" fill="#000"/>
<line x1="474" y1="357.3" x2="474" y2="364.9" stroke="#000" stroke-width="2.3" stroke-dasharray="3.9 0.45"/>
<path d="M474 369.6 L470.4 364.4 L477.6 364.4 Z" fill="#000"/>
</svg>
</body>
</html>
